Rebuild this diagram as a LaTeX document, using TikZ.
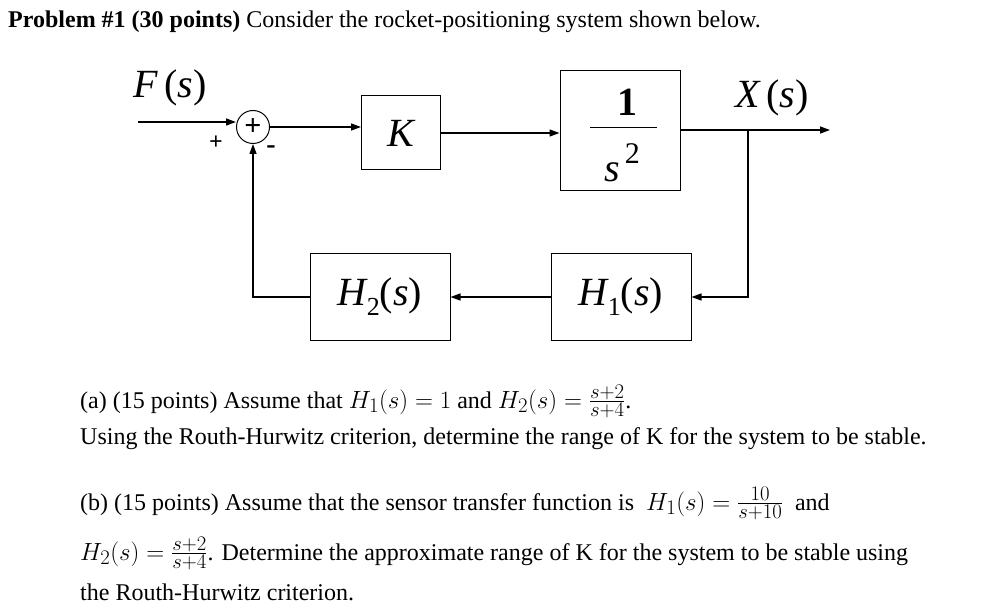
\documentclass[tikz,border=0pt]{standalone}
\usepackage{amsmath}
\usepackage{fontspec}
\setmainfont{Liberation Serif}
\usetikzlibrary{arrows.meta}
\newcommand{\mm}[1]{{\fontsize{31}{31}\selectfont$#1$}}
\begin{document}
\begin{tikzpicture}[x=1pt,y=-1pt,
  blk/.style={draw,line width=1pt,inner sep=0pt},
  conn/.style={line width=1.3pt,-{Triangle[length=10pt,width=7pt]}},
  txt/.style={anchor=base west,inner sep=0pt,font=\fontsize{24}{28}\selectfont},
  big/.style={font=\fontsize{40}{42}\selectfont\itshape}]
\useasboundingbox (0,0) rectangle (984,609);
\node[txt] (title) at (8,28) {\textbf{Problem \#1 (30 points)} Consider the rocket-positioning system shown below.};
% blocks
\node[draw,circle,line width=1pt,minimum size=33pt,inner sep=0pt,font=\fontsize{30}{30}\selectfont\bfseries] (sum) at (253,127) {+};
\node[blk,minimum width=79pt,minimum height=74pt,big] (K) at (401,133) {K};
\node[blk,minimum width=120pt,minimum height=120pt] (G) at (620,131) {};
\node[font=\fontsize{40}{42}\selectfont\bfseries] (one) at (627,102) {1};
\draw[line width=1pt] (590,128) -- (657,128);
\node[big] (s2) at (622,163) {s\raisebox{0.45em}{\upshape\fontsize{30}{30}\selectfont\,2}};
\node[blk,minimum width=140pt,minimum height=87pt,big] (H2) at (380,297) {H\raisebox{-0.25em}{\upshape\fontsize{26}{26}\selectfont 2}\upshape(\textit{s})};
\node[blk,minimum width=140pt,minimum height=87pt,big] (H1) at (621,297) {H\raisebox{-0.25em}{\upshape\fontsize{26}{26}\selectfont 1}\upshape(\textit{s})};
\node[big] (F) at (170,88) {F\,\upshape(\textit{s})};
\node[big] (X) at (772,98) {X\,\upshape(\textit{s})};
\node[font=\fontsize{24}{24}\selectfont\bfseries] (p) at (216,143) {+};
\node[font=\fontsize{28}{28}\selectfont\bfseries] (m) at (271,150) {-};
% connectors
\coordinate (in) at (138,122);
\coordinate (out) at (830,130);
\coordinate (br) at (748,130);
\coordinate (br2) at (748,297);
\coordinate (lc) at (253,297);
\draw[conn] (in) -- (sum.west |- in);
\draw[conn] (sum.east) -- (K.west |- sum.east);
\draw[conn] (K.east) -- (G.west |- K.east);
\draw[conn] (G.east |- out) -- (out);
\draw[conn] (br) -- (br2) -- (H1.east);
\draw[conn] (H1.west) -- (H2.east);
\draw[conn] (H2.west) -- (lc) -- (sum.south);
% text
\node[txt] (a) at (80,408) {(a) (15 points) Assume that \mm{H_1(s)=1} and \mm{H_2(s)=\frac{s+2}{s+4}}.};
\node[txt] (a2) at (80,444) {Using the Routh-Hurwitz criterion, determine the range of K for the system to be stable.};
\node[txt] (b) at (80,510) {(b) (15 points) Assume that the sensor transfer function is \ \mm{H_1(s)=\frac{10}{s+10}} \ and};
\node[txt] (b2) at (80,560) {\mm{H_2(s)=\frac{s+2}{s+4}}. Determine the approximate range of K for the system to be stable using};
\node[txt] (b3) at (80,600) {the Routh-Hurwitz criterion.};
\end{tikzpicture}
\end{document}
